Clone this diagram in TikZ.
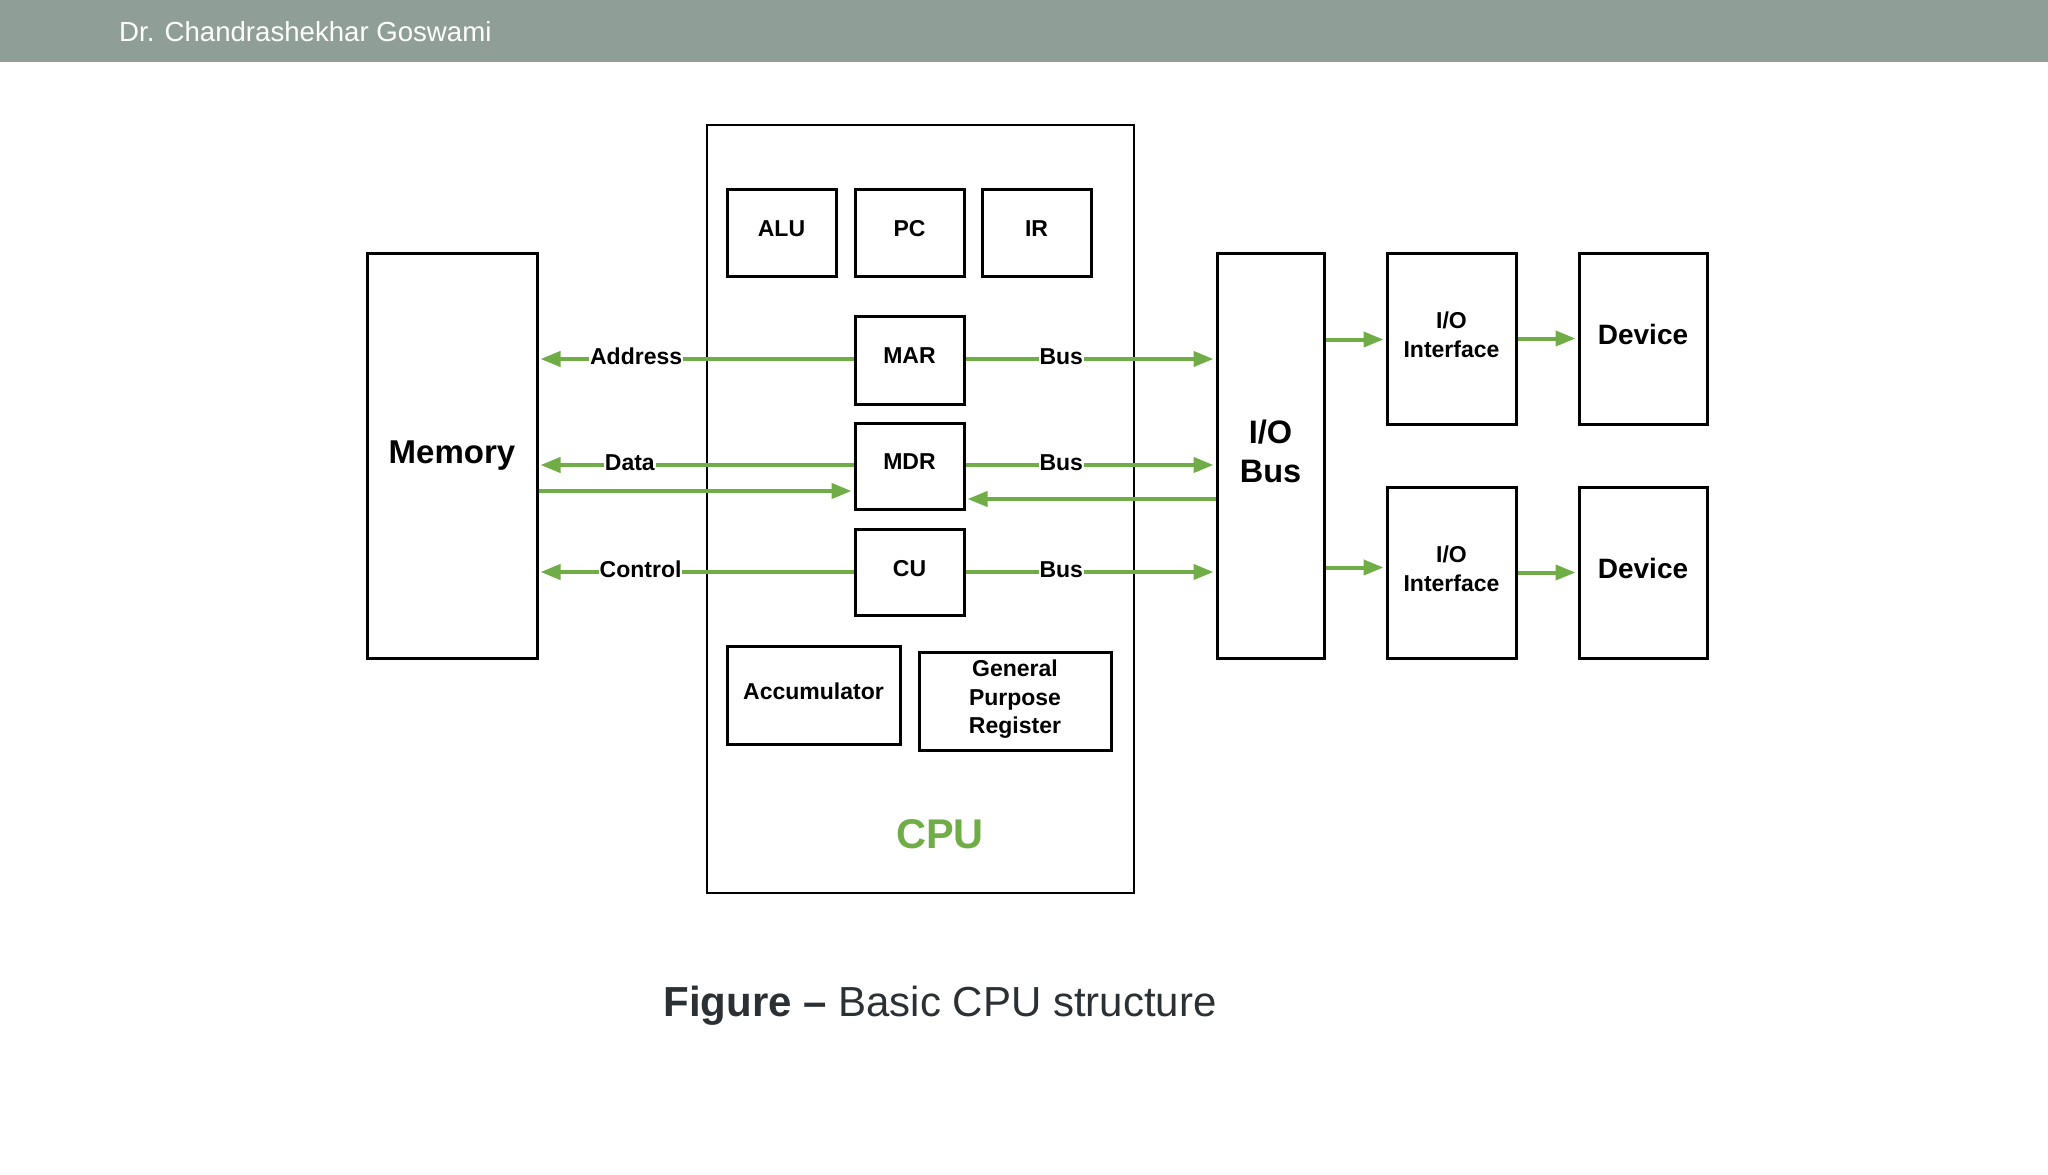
\documentclass[tikz,border=0pt]{standalone}
\usepackage{fontspec}
\setmainfont{Liberation Sans}
\usetikzlibrary{arrows.meta,positioning}
\definecolor{hdr}{HTML}{8F9E96}
\definecolor{grn}{HTML}{70AD47}
\definecolor{cap}{HTML}{2B3035}
\tikzset{
  box/.style={draw=black, line width=3pt, fill=white, inner sep=0pt, align=center, text depth=8pt,
    font=\fontsize{23}{28}\selectfont\bfseries},
  arr/.style={draw=grn, line width=4pt, -{Triangle[length=20pt,width=15pt]}, shorten >=2pt},
  lbl/.style={fill=white, inner sep=1pt, yshift=2.5pt, text=black, font=\fontsize{23}{28}\selectfont\bfseries},
}
\begin{document}
\begin{tikzpicture}[x=1pt,y=-1pt]
\useasboundingbox (0,0) rectangle (2048,1175);
% header
\fill[hdr] (0,0) rectangle (2048,62);
\node[anchor=west, text=white, font=\fontsize{27.6}{30}\selectfont, inner sep=0pt] (author) at (119,32) {Dr. Chandrashekhar Goswami};
% CPU
\node[box, line width=2.6pt, minimum width=427pt, minimum height=768pt] (cpu) at (920.5,509) {};
\node[font=\fontsize{41.5}{46}\selectfont\bfseries, text=grn, inner sep=0pt] (cpulbl) at (940,834) {CPU};
\node[box, minimum width=109pt, minimum height=87pt] (alu) at (781.5,232.5) {ALU};
\node[box, minimum width=109pt, minimum height=87pt] (pc) at (909.5,232.5) {PC};
\node[box, minimum width=109pt, minimum height=87pt] (ir) at (1036.5,232.5) {IR};
\node[box, minimum width=109pt, minimum height=88pt] (mar) at (909.5,360) {MAR};
\node[box, minimum width=109pt, minimum height=86pt] (mdr) at (909.5,466) {MDR};
\node[box, minimum width=109pt, minimum height=86pt] (cu) at (909.5,572) {CU};
\node[box, minimum width=173pt, minimum height=98pt] (acc) at (813.5,695) {Accumulator};
\node[box, minimum width=192pt, minimum height=98pt, font=\fontsize{23}{28.5}\selectfont\bfseries] (gpr) at (1015,701) {General\\Purpose\\Register};
% memory
\node[box, text depth=7pt, minimum width=170pt, minimum height=405pt, font=\fontsize{33}{38}\selectfont\bfseries] (mem) at (452,455.5) {Memory};
% IO bus
\node[box, minimum width=107pt, minimum height=405pt, font=\fontsize{32.5}{39}\selectfont\bfseries] (iob) at (1270.5,455.5) {I/O\\Bus};
% interfaces and devices
\node[box, minimum width=129pt, minimum height=171pt, font=\fontsize{23}{29}\selectfont\bfseries] (if1) at (1451.5,338.5) {I/O\\Interface};
\node[box, minimum width=128pt, minimum height=171pt, font=\fontsize{28}{32}\selectfont\bfseries] (dv1) at (1643,338.5) {Device};
\node[box, minimum width=129pt, minimum height=171pt, font=\fontsize{23}{29}\selectfont\bfseries] (if2) at (1451.5,572.5) {I/O\\Interface};
\node[box, minimum width=128pt, minimum height=171pt, font=\fontsize{28}{32}\selectfont\bfseries] (dv2) at (1643,572.5) {Device};
% connector levels
\coordinate (mdrin) at ([yshift=-25pt]mdr.west);
\coordinate (mdrback) at ([yshift=-33pt]mdr.east);
% memory side
\draw[arr] ([yshift=1pt]mar.west) -- node[lbl, pos=0.69] {Address} ([yshift=1pt]mar.west -| mem.east);
\draw[arr] ([yshift=1pt]mdr.west) -- node[lbl, pos=0.71] {Data} ([yshift=1pt]mdr.west -| mem.east);
\draw[arr] (mdrin -| mem.east) -- (mdrin);
\draw[arr] (cu.west) -- node[lbl, pos=0.676] {Control} (cu.west -| mem.east);
% io side
\draw[arr] ([yshift=1pt]mar.east) -- node[lbl, pos=0.383] {Bus} ([yshift=1pt]mar.east -| iob.west);
\draw[arr] ([yshift=1pt]mdr.east) -- node[lbl, pos=0.383] {Bus} ([yshift=1pt]mdr.east -| iob.west);
\draw[arr] (mdrback -| iob.west) -- (mdrback);
\draw[arr] (cu.east) -- node[lbl, pos=0.383] {Bus} (cu.east -| iob.west);
% io bus to interfaces
\draw[arr] ([yshift=-1pt]if1.west -| iob.east) -- ([yshift=-1pt]if1.west);
\draw[arr] (if1.east) -- (dv1.west);
\draw[arr] ([yshift=5pt]if2.west -| iob.east) -- ([yshift=5pt]if2.west);
\draw[arr] (if2.east) -- (dv2.west);
% caption
\node[text=cap, font=\fontsize{42}{46}\selectfont, inner sep=0pt] (caption) at (940,1006) {\textbf{Figure –} Basic CPU structure};
\end{tikzpicture}
\end{document}
